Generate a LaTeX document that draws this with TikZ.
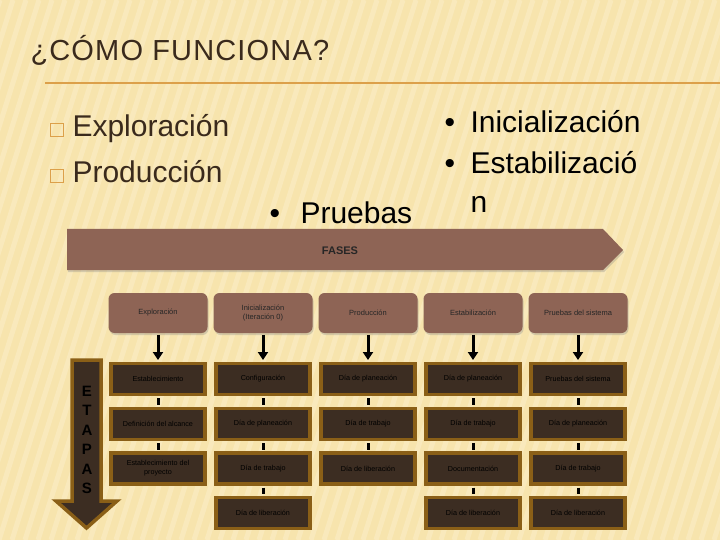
\documentclass[tikz,border=0pt]{standalone}
\usepackage{fontspec}
\setmainfont{Liberation Sans}
\newfontfamily\titlefont[LetterSpace=4]{Liberation Sans}
\usetikzlibrary{arrows.meta,shadows}
\definecolor{cream}{HTML}{F7E4AD}
\definecolor{stripe}{HTML}{FCF1CF}
\definecolor{mauve}{HTML}{8E6455}
\definecolor{cocoa}{HTML}{3C2D22}
\definecolor{gold}{HTML}{8A5F17}
\definecolor{darkbrown}{HTML}{3A2A1C}
\definecolor{orangerule}{HTML}{DCA04A}
\begin{document}
\begin{tikzpicture}[x=1pt,y=-1pt,
    big/.style={font=\fontsize{30}{36}\selectfont},
    sqbullet/.style={draw=orangerule, line width=1.3pt, minimum size=13pt, inner sep=0pt},
    phase/.style={rounded corners=6pt, fill=mauve, minimum width=99pt, minimum height=40pt,
      align=center, text=black!85, font=\fontsize{7.5}{9}\selectfont,
      drop shadow={shadow xshift=1pt, shadow yshift=-2pt, opacity=.3}},
    stage/.style={fill=cocoa, draw=gold, line width=3.5pt, minimum width=94pt, minimum height=31pt,
      align=center, text=black, font=\fontsize{7.2}{9}\selectfont},
    link/.style={line width=3pt, black, shorten <=1.75pt, shorten >=1.75pt},
    godown/.style={link, -{Triangle[width=10pt,length=8pt]}}]
  % background
  \fill[cream] (0,0) rectangle (720,540);
  \begin{scope}
    \clip (0,0) rectangle (720,540);
    \foreach \sx in {0,13,...,900}
      \draw[stripe, line width=5pt, opacity=.45] (\sx,0) -- (\sx-170,540);
  \end{scope}
  \useasboundingbox (0,0) rectangle (720,540);

  % title
  \node[anchor=base west, text=darkbrown, font=\titlefont\fontsize{29}{34}\selectfont] (title) at (27,61) {¿CÓMO FUNCIONA?};
  \draw[orangerule, line width=2pt] (45,83) -- (720,83);

  % lists
  \node[sqbullet] (sq1) at (57,130) {};
  \node[anchor=base west, text=darkbrown, big] (expl) at (69,137) {Exploración};
  \node[sqbullet] (sq2) at (57,176) {};
  \node[anchor=base west, text=darkbrown, big] (prod) at (69,183) {Producción};
  \node[anchor=base west, big] (ini) at (441,133) {\makebox[26pt][l]{\textbullet}Inicialización};
  \node[anchor=base west, big] (estab) at (441,174) {\makebox[26pt][l]{\textbullet}Estabilizació};
  \node[anchor=base west, big] (estabn) at (467,213) {n};
  \node[anchor=base west, big] (prue) at (266,224) {\makebox[31pt][l]{\textbullet}Pruebas};

  % fases
  \path[fill=mauve, drop shadow={shadow xshift=1pt, shadow yshift=-2pt, opacity=.3}]
    (67,229) -- (603,229) -- (623,250) -- (603,270) -- (67,270) -- cycle;
  \node[font=\bfseries\fontsize{11}{13}\selectfont, text=black!85] (fases) at (340,251) {FASES};

  \node[phase] (ph1) at (158,313) {Exploración};
  \node[phase] (ph2) at (263,313) {Inicialización\\(Iteración 0)};
  \node[phase] (ph3) at (368,313) {Producción};
  \node[phase] (ph4) at (473,313) {Estabilización};
  \node[phase] (ph5) at (578,313) {Pruebas del sistema};

  % etapas
  \filldraw[fill=cocoa, draw=gold, line width=3.5pt]
    (72,360) -- (101,360) -- (101,501) -- (117,501) -- (86.5,528) -- (56,501) -- (72,501) -- cycle;
  \node[font=\bfseries\fontsize{15}{19.4}\selectfont, align=center, text=black] (etapas) at (87,440) {E\\T\\A\\P\\A\\S};

  \node[stage] (e11) at (158,379) {Establecimiento};
  \node[stage] (e12) at (158,424) {Definición del alcance};
  \node[stage] (e13) at (158,468.5) {Establecimiento del\\proyecto};

  \node[stage] (e21) at (263,379) {Configuración};
  \node[stage] (e22) at (263,424) {Día de planeación};
  \node[stage] (e23) at (263,468.5) {Día de trabajo};
  \node[stage] (e24) at (263,513) {Día de liberación};

  \node[stage] (e31) at (368,379) {Día de planeación};
  \node[stage] (e32) at (368,424) {Día de trabajo};
  \node[stage] (e33) at (368,468.5) {Día de liberación};

  \node[stage] (e41) at (473,379) {Día de planeación};
  \node[stage] (e42) at (473,424) {Día de trabajo};
  \node[stage] (e43) at (473,468.5) {Documentación};
  \node[stage] (e44) at (473,513) {Día de liberación};

  \node[stage] (e51) at (578,379) {Pruebas del sistema};
  \node[stage] (e52) at (578,424) {Día de planeación};
  \node[stage] (e53) at (578,468.5) {Día de trabajo};
  \node[stage] (e54) at (578,513) {Día de liberación};

  % connectors
  \draw[godown] (ph1) -- (e11);
  \draw[godown] (ph2) -- (e21);
  \draw[godown] (ph3) -- (e31);
  \draw[godown] (ph4) -- (e41);
  \draw[godown] (ph5) -- (e51);
  \draw[link] (e11) -- (e12);
  \draw[link] (e12) -- (e13);
  \draw[link] (e21) -- (e22);
  \draw[link] (e22) -- (e23);
  \draw[link] (e23) -- (e24);
  \draw[link] (e31) -- (e32);
  \draw[link] (e32) -- (e33);
  \draw[link] (e41) -- (e42);
  \draw[link] (e42) -- (e43);
  \draw[link] (e43) -- (e44);
  \draw[link] (e51) -- (e52);
  \draw[link] (e52) -- (e53);
  \draw[link] (e53) -- (e54);
\end{tikzpicture}
\end{document}
